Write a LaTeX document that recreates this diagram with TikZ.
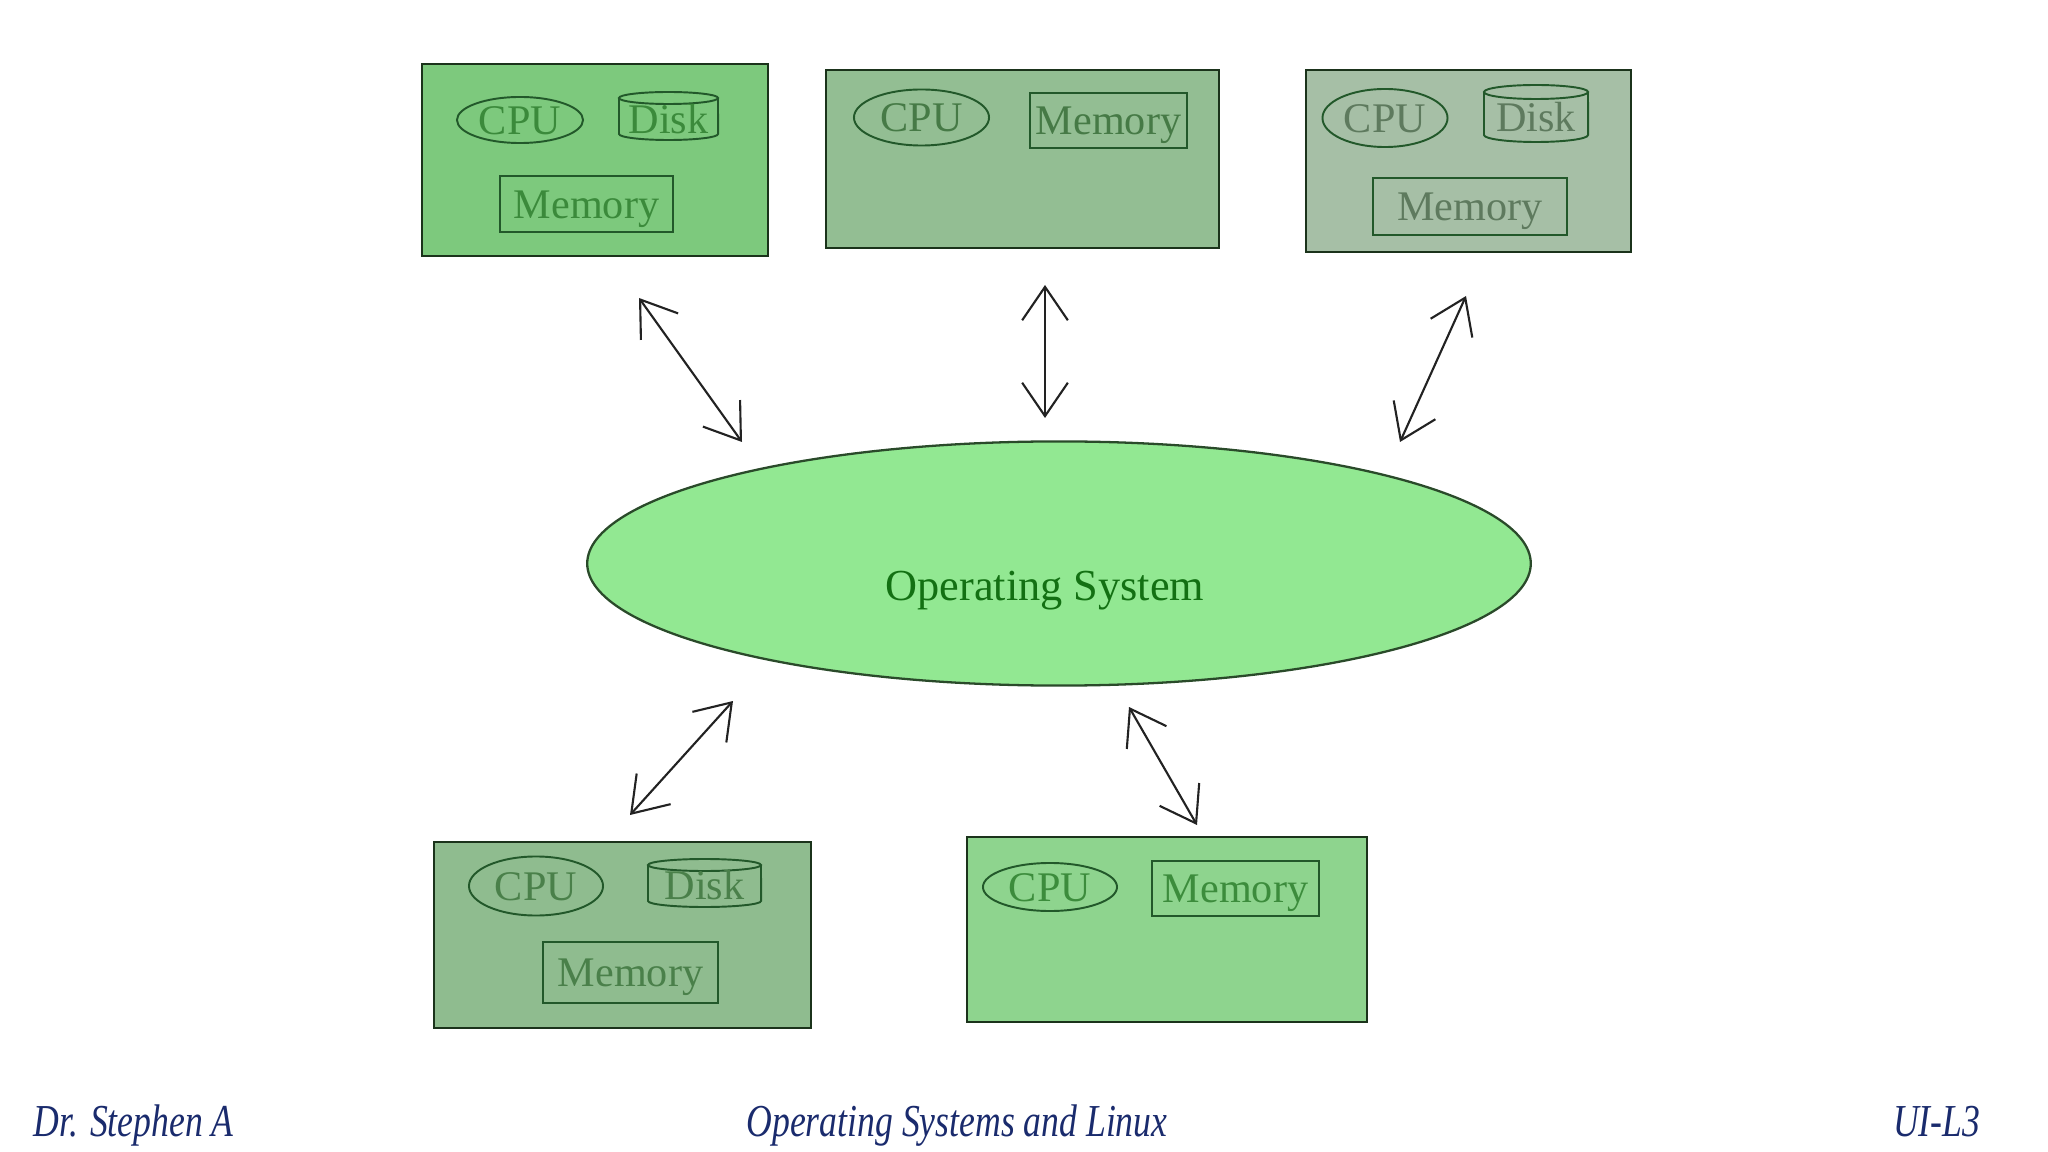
\documentclass[tikz,border=0pt]{standalone}
\usepackage{fontspec}
\setmainfont{Liberation Serif}
\newfontfamily\footfont[FakeStretch=0.78]{Liberation Serif}
\usetikzlibrary{arrows.meta,shapes.geometric}
\definecolor{boxline}{HTML}{1B331B}
\definecolor{inline}{HTML}{22582A}
\definecolor{fA}{HTML}{7DC97D}
\definecolor{fB}{HTML}{93BE93}
\definecolor{fC}{HTML}{A6BFA6}
\definecolor{fD}{HTML}{8FBC8F}
\definecolor{fE}{HTML}{8ED48E}
\definecolor{tA}{HTML}{3B8A3B}
\definecolor{tB}{HTML}{467A46}
\definecolor{tC}{HTML}{5E7A5E}
\definecolor{tD}{HTML}{4A804A}
\definecolor{tE}{HTML}{3C8C3C}
\definecolor{osfill}{HTML}{92E892}
\definecolor{osline}{HTML}{2A4A2A}
\definecolor{ostext}{HTML}{137013}
\definecolor{foot}{HTML}{1A2B6D}
\definecolor{arrowc}{HTML}{222222}
\begin{document}
\begin{tikzpicture}[x=0.01cm,y=0.01cm,
  box/.style={draw=boxline, line width=0.75pt, rectangle, inner sep=0pt},
  cpu/.style={ellipse, draw=inline, line width=0.55pt, inner sep=0pt},
  mem/.style={rectangle, draw=inline, line width=0.55pt, inner sep=0pt},
  disk/.style={draw=inline, line width=0.55pt},
  lbl/.style={inner sep=0pt, text height=8pt, text depth=0pt, font=\fontsize{12}{12}\selectfont},
  biarrow/.style={draw=arrowc, line width=0.6pt, {Straight Barb[length=9.5pt,width=13pt]}-{Straight Barb[length=9.5pt,width=13pt]}},
  foottext/.style={inner sep=0pt, text=foot, font=\footfont\itshape\fontsize{13}{13}\selectfont, text height=8.6pt, text depth=0pt}
]
\useasboundingbox[fill=white] (0,0) rectangle (2048,-1152);

% ---------- Box 1 ----------
\node[box, fill=fA, minimum width=3.46cm, minimum height=1.92cm] (b1) at (595,-160) {};
\node[cpu, minimum width=1.26cm, minimum height=0.46cm] (c1) at (520,-120) {};
\node[lbl, text=tA] (c1t) at (c1) {CPU};
\draw[disk] (619,-98) -- (619,-134) arc[start angle=180, end angle=360, x radius=0.495cm, y radius=0.06cm] -- (718,-98);
\draw[disk] (668.5,-98) ellipse [x radius=0.495cm, y radius=0.06cm];
\node[lbl, text=tA] (d1t) at (668.5,-119) {Disk};
\node[mem, minimum width=1.73cm, minimum height=0.56cm] (m1) at (586.5,-204) {};
\node[lbl, text=tA] (m1t) at (m1) {Memory};

% ---------- Box 2 ----------
\node[box, fill=fB, minimum width=3.93cm, minimum height=1.78cm] (b2) at (1022.5,-159) {};
\node[cpu, minimum width=1.35cm, minimum height=0.56cm] (c2) at (921.5,-117.5) {};
\node[lbl, text=tB] (c2t) at (c2) {CPU};
\node[mem, minimum width=1.57cm, minimum height=0.55cm] (m2) at (1108.5,-120.5) {};
\node[lbl, text=tB] (m2t) at (m2) {Memory};

% ---------- Box 3 ----------
\node[box, fill=fC, minimum width=3.25cm, minimum height=1.82cm] (b3) at (1468.5,-161) {};
\node[cpu, minimum width=1.25cm, minimum height=0.58cm] (c3) at (1385,-118) {};
\node[lbl, text=tC] (c3t) at (c3) {CPU};
\draw[disk] (1484,-92) -- (1484,-135) arc[start angle=180, end angle=360, x radius=0.52cm, y radius=0.07cm] -- (1588,-92);
\draw[disk] (1536,-92) ellipse [x radius=0.52cm, y radius=0.07cm];
\node[lbl, text=tC] (d3t) at (1536,-117) {Disk};
\node[mem, minimum width=1.94cm, minimum height=0.57cm] (m3) at (1470,-206.5) {};
\node[lbl, text=tC] (m3t) at (m3) {Memory};

% ---------- Box 4 ----------
\node[box, fill=fD, minimum width=3.77cm, minimum height=1.86cm] (b4) at (622.5,-935) {};
\node[cpu, minimum width=1.34cm, minimum height=0.59cm] (c4) at (536,-886) {};
\node[lbl, text=tD] (c4t) at (c4) {CPU};
\draw[disk] (648,-865) -- (648,-901) arc[start angle=180, end angle=360, x radius=0.565cm, y radius=0.06cm] -- (761,-865);
\draw[disk] (704.5,-865) ellipse [x radius=0.565cm, y radius=0.06cm];
\node[lbl, text=tD] (d4t) at (704.5,-885) {Disk};
\node[mem, minimum width=1.75cm, minimum height=0.61cm] (m4) at (630.5,-972.5) {};
\node[lbl, text=tD] (m4t) at (m4) {Memory};

% ---------- Box 5 ----------
\node[box, fill=fE, minimum width=4.00cm, minimum height=1.85cm] (b5) at (1167,-929.5) {};
\node[cpu, minimum width=1.34cm, minimum height=0.48cm] (c5) at (1050,-887) {};
\node[lbl, text=tE] (c5t) at (c5) {CPU};
\node[mem, minimum width=1.67cm, minimum height=0.55cm] (m5) at (1235.5,-888.5) {};
\node[lbl, text=tE] (m5t) at (m5) {Memory};

% ---------- Operating system ----------
\node[ellipse, draw=osline, line width=0.65pt, fill=osfill, inner sep=0pt, minimum width=9.43cm, minimum height=2.44cm] (os) at (1059,-563.5) {};
\node[inner sep=0pt, text=ostext, font=\fontsize{12.6}{12.6}\selectfont, text height=8.4pt, text depth=0pt] (ost) at (1045,-586) {Operating System};

% ---------- Arrows ----------
\coordinate (a1s) at (639,-298); \coordinate (a1e) at (742,-442);
\coordinate (a2s) at (1045,-285); \coordinate (a2e) at (1045,-418);
\coordinate (a3s) at (1466,-296); \coordinate (a3e) at (1400,-442);
\coordinate (a4s) at (733,-701); \coordinate (a4e) at (630,-815);
\coordinate (a5s) at (1129,-707); \coordinate (a5e) at (1197,-825);
\draw[biarrow] (a1s) -- (a1e);
\draw[biarrow] (a2s) -- (a2e);
\draw[biarrow] (a3s) -- (a3e);
\draw[biarrow] (a4s) -- (a4e);
\draw[biarrow] (a5s) -- (a5e);

% ---------- Footer ----------
\node[foottext, anchor=west] (fl) at (33,-1121) {Dr. Stephen A};
\node[foottext] (fc) at (957,-1121) {Operating Systems and Linux};
\node[foottext, anchor=east] (fr) at (1981,-1121) {UI-L3};
\end{tikzpicture}
\end{document}
